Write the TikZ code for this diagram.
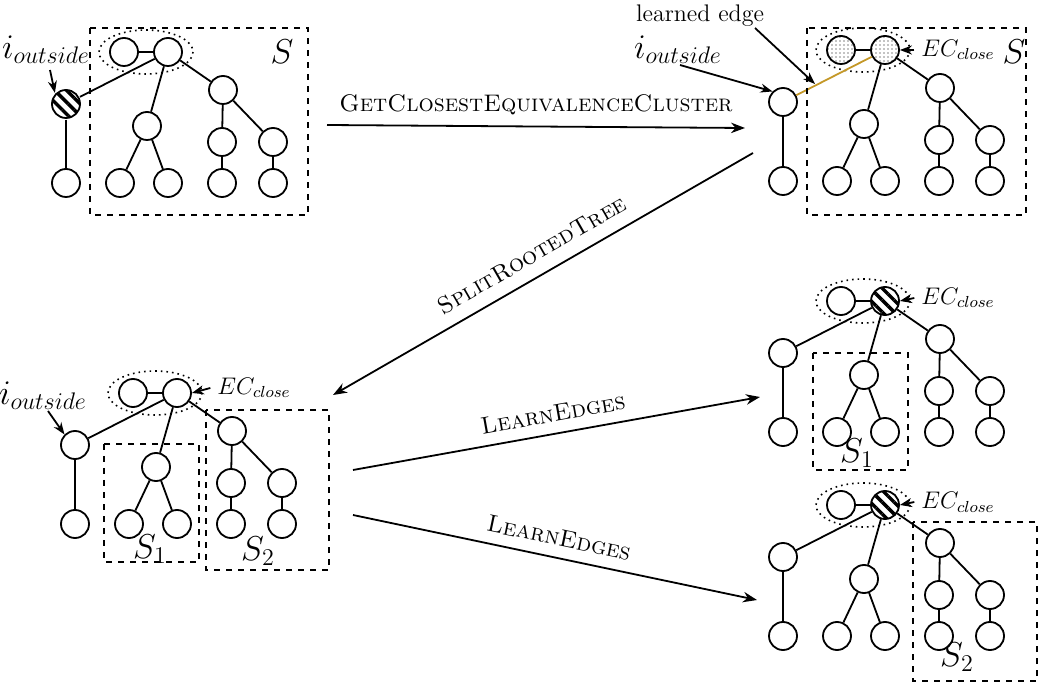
\documentclass[tikz,border=0pt]{standalone}
\usetikzlibrary{patterns,patterns.meta,arrows.meta}

\definecolor{learnedcol}{RGB}{196,152,40}

\tikzset{vertex/.style={draw,circle,line width=0.9pt,minimum size=14pt,inner sep=0pt},
	hatched/.style={vertex,pattern={Lines[angle=-45,distance=4.2pt,line width=1.7pt]}},
	dotted vertex/.style={vertex,pattern={Dots[radius=0.35pt,distance=2pt]}},
	tree edge/.style={line width=0.9pt},
	cluster/.style={draw,dotted,line width=0.8pt},
	subtree box/.style={draw,dashed,line width=0.8pt},
	step arrow/.style={-{Stealth[length=7pt]},line width=0.9pt},
	note arrow/.style={-{Stealth[length=6pt]},line width=0.9pt}}

% #1 shift, #2 prefix, #3 root style, #4 left style, #5 outside style, #6 outside edge style
\newcommand{\ectree}[6]{
	\begin{scope}[shift={#1}]
		\draw[cluster] (-22,0) ellipse (47 and 22);
		\node[#3] (#2r) at (0,0) {};
		\node[#4] (#2l) at (-44,0) {};
		\node[#5] (#2o) at (-102,52) {};
		\node[vertex] (#2ob) at (-102,131) {};
		\node[vertex] (#2m) at (-21,74) {};
		\node[vertex] (#2ma) at (-48,131) {};
		\node[vertex] (#2mb) at (0,131) {};
		\node[vertex] (#2c) at (55,38) {};
		\node[vertex] (#2ca) at (54,90) {};
		\node[vertex] (#2cb) at (105,90) {};
		\node[vertex] (#2caa) at (54,131) {};
		\node[vertex] (#2cbb) at (105,131) {};
		\draw[tree edge] (#2l) -- (#2r);
		\draw[#6] (#2r) -- (#2o);
		\draw[tree edge] (#2o) -- (#2ob);
		\draw[tree edge] (#2r) -- (#2m);
		\draw[tree edge] (#2m) -- (#2ma);
		\draw[tree edge] (#2m) -- (#2mb);
		\draw[tree edge] (#2r) -- (#2c);
		\draw[tree edge] (#2c) -- (#2ca);
		\draw[tree edge] (#2c) -- (#2cb);
		\draw[tree edge] (#2ca) -- (#2caa);
		\draw[tree edge] (#2cb) -- (#2cbb);
	\end{scope}
}

\begin{document}
\begin{tikzpicture}[x=0.5pt,y=-0.5pt]
	\useasboundingbox (0,0) rectangle (1044,689);

	% initial tree
	\ectree{(168,52)}{a}{vertex}{vertex}{hatched}{tree edge}
	\draw[subtree box] (90,28) rectangle (308,215);
	\node (aS) at (282,52) {\LARGE $S$};
	\node (aI) at (46,50) {\LARGE $i_{outside}$};
	\coordinate (aIt) at (50,70);
	\draw[note arrow] (aIt) -- (ao.north west);

	% after GetClosestEquivalenceCluster
	\ectree{(885,50)}{b}{dotted vertex}{dotted vertex}{vertex}{tree edge,learnedcol}
	\draw[subtree box] (807,28) rectangle (1026,215);
	\node (bS) at (1014,52) {\LARGE $S$};
	\node (bEC) at (958,50) {\large $EC_{close}$};
	\draw[note arrow] (bEC.west) -- (br.east);
	\node (bI) at (678,50) {\LARGE $i_{outside}$};
	\coordinate (bIt) at (680,65);
	\draw[note arrow] (bIt) -- (bo.north west);
	\node (bL) at (700,16) {\large learned edge};
	\coordinate (bLt) at (755,28);
	\coordinate (bLe) at (815,84);
	\draw[note arrow] (bLt) -- (bLe);

	% after SplitRootedTree
	\ectree{(177,393)}{c}{vertex}{vertex}{vertex}{tree edge}
	\draw[subtree box] (104,444) rectangle (199,562);
	\draw[subtree box] (206,410) rectangle (329,570);
	\node (cS1) at (150,549) {\LARGE $S_1$};
	\node (cS2) at (258,551) {\LARGE $S_2$};
	\node (cEC) at (254,388) {\large $EC_{close}$};
	\draw[note arrow] (cEC.west) -- (cr.east);
	\node (cI) at (43,396) {\LARGE $i_{outside}$};
	\coordinate (cIt) at (48,411);
	\draw[note arrow] (cIt) -- (co.north west);

	% LearnEdges on S_1
	\ectree{(885,301)}{d}{hatched}{vertex}{vertex}{tree edge}
	\draw[subtree box] (813,353) rectangle (908,470);
	\node (dS1) at (857,453) {\LARGE $S_1$};
	\node (dEC) at (958,298) {\large $EC_{close}$};
	\draw[note arrow] (dEC.west) -- (dr.east);

	% LearnEdges on S_2
	\ectree{(885,505)}{e}{hatched}{vertex}{vertex}{tree edge}
	\draw[subtree box] (913,522) rectangle (1037,681);
	\node (eS2) at (957,657) {\LARGE $S_2$};
	\node (eEC) at (958,502) {\large $EC_{close}$};
	\draw[note arrow] (eEC.west) -- (er.east);

	% steps
	\coordinate (g1) at (327,125);
	\coordinate (g2) at (745,128);
	\draw[step arrow] (g1) -- node[above=2pt] {\large\textsc{GetClosestEquivalenceCluster}} (g2);
	\coordinate (s1) at (753,153);
	\coordinate (s2) at (333,395);
	\draw[step arrow] (s1) -- node[sloped,above=3pt] {\large\textsc{SplitRootedTree}} (s2);
	\coordinate (l1) at (353,470);
	\coordinate (l2) at (760,397);
	\draw[step arrow] (l1) -- node[sloped,above=2pt] {\large\textsc{LearnEdges}} (l2);
	\coordinate (k1) at (353,515);
	\coordinate (k2) at (757,600);
	\draw[step arrow] (k1) -- node[sloped,above=2pt] {\large\textsc{LearnEdges}} (k2);
\end{tikzpicture}
\end{document}
